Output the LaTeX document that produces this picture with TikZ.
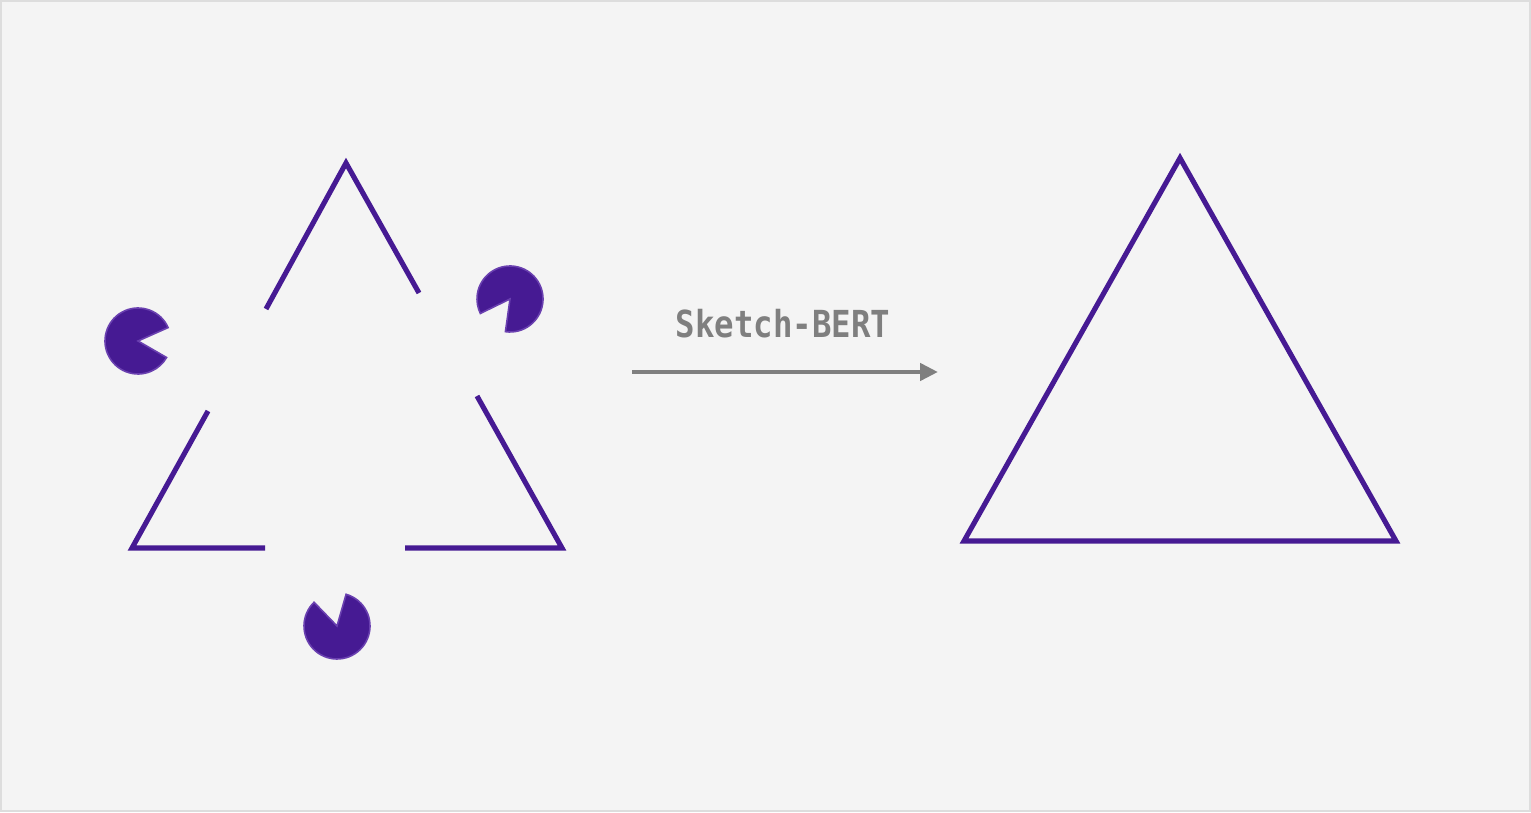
\documentclass[tikz,border=0pt]{standalone}
\usepackage{fontspec}
\setmonofont{DejaVu Sans Mono}
\usetikzlibrary{positioning,arrows.meta}
\definecolor{bgcol}{HTML}{F4F4F4}
\definecolor{framecol}{HTML}{DDDDDD}
\definecolor{kpurple}{HTML}{461A93}
\definecolor{kedge}{HTML}{6A40B0}
\definecolor{arrowgray}{HTML}{7F7F7F}

\begin{document}
\begin{tikzpicture}[x=0.01cm,y=0.01cm,
    edge/.style={draw=kpurple,line width=1.45pt,line join=miter},
    pacman/.style={fill=kpurple,draw=kedge,line width=0.45pt}]
    %Background
    \useasboundingbox (0,0) rectangle (1531,812);
    \draw[fill=bgcol,draw=framecol,line width=0.57pt] (1,1) rectangle (1530,811);
    %Kanizsa edges
    \draw[edge] (266,503) -- (346,649) -- (419,519);
    \draw[edge] (208,401) -- (132,264) -- (265,264);
    \draw[edge] (477,416) -- (562,264) -- (405,264);
    %Pacmen
    \draw[pacman] (138,471) -- ++(24:33) arc (24:330:33) -- cycle;
    \draw[pacman] (510,513) -- ++(262:33) arc (262:566:33) -- cycle;
    \draw[pacman] (337,186) -- ++(134:33) arc (134:434:33) -- cycle;
    %Arrow
    \coordinate (start) at (632,440);
    \coordinate (stop) at (938,440);
    \draw[-{Triangle[length=0.18cm,width=0.17cm]},draw=arrowgray,fill=arrowgray,line width=1.4pt] (start) -- (stop);
    \node[text=arrowgray,font=\ttfamily\bfseries\fontsize{9.2}{11}\selectfont,yscale=1.15] (label) at (783,488) {Sketch-BERT};
    %Triangle
    \draw[edge] (1180,654) -- (964,271) -- (1396,271) -- cycle;
\end{tikzpicture}
\end{document}
